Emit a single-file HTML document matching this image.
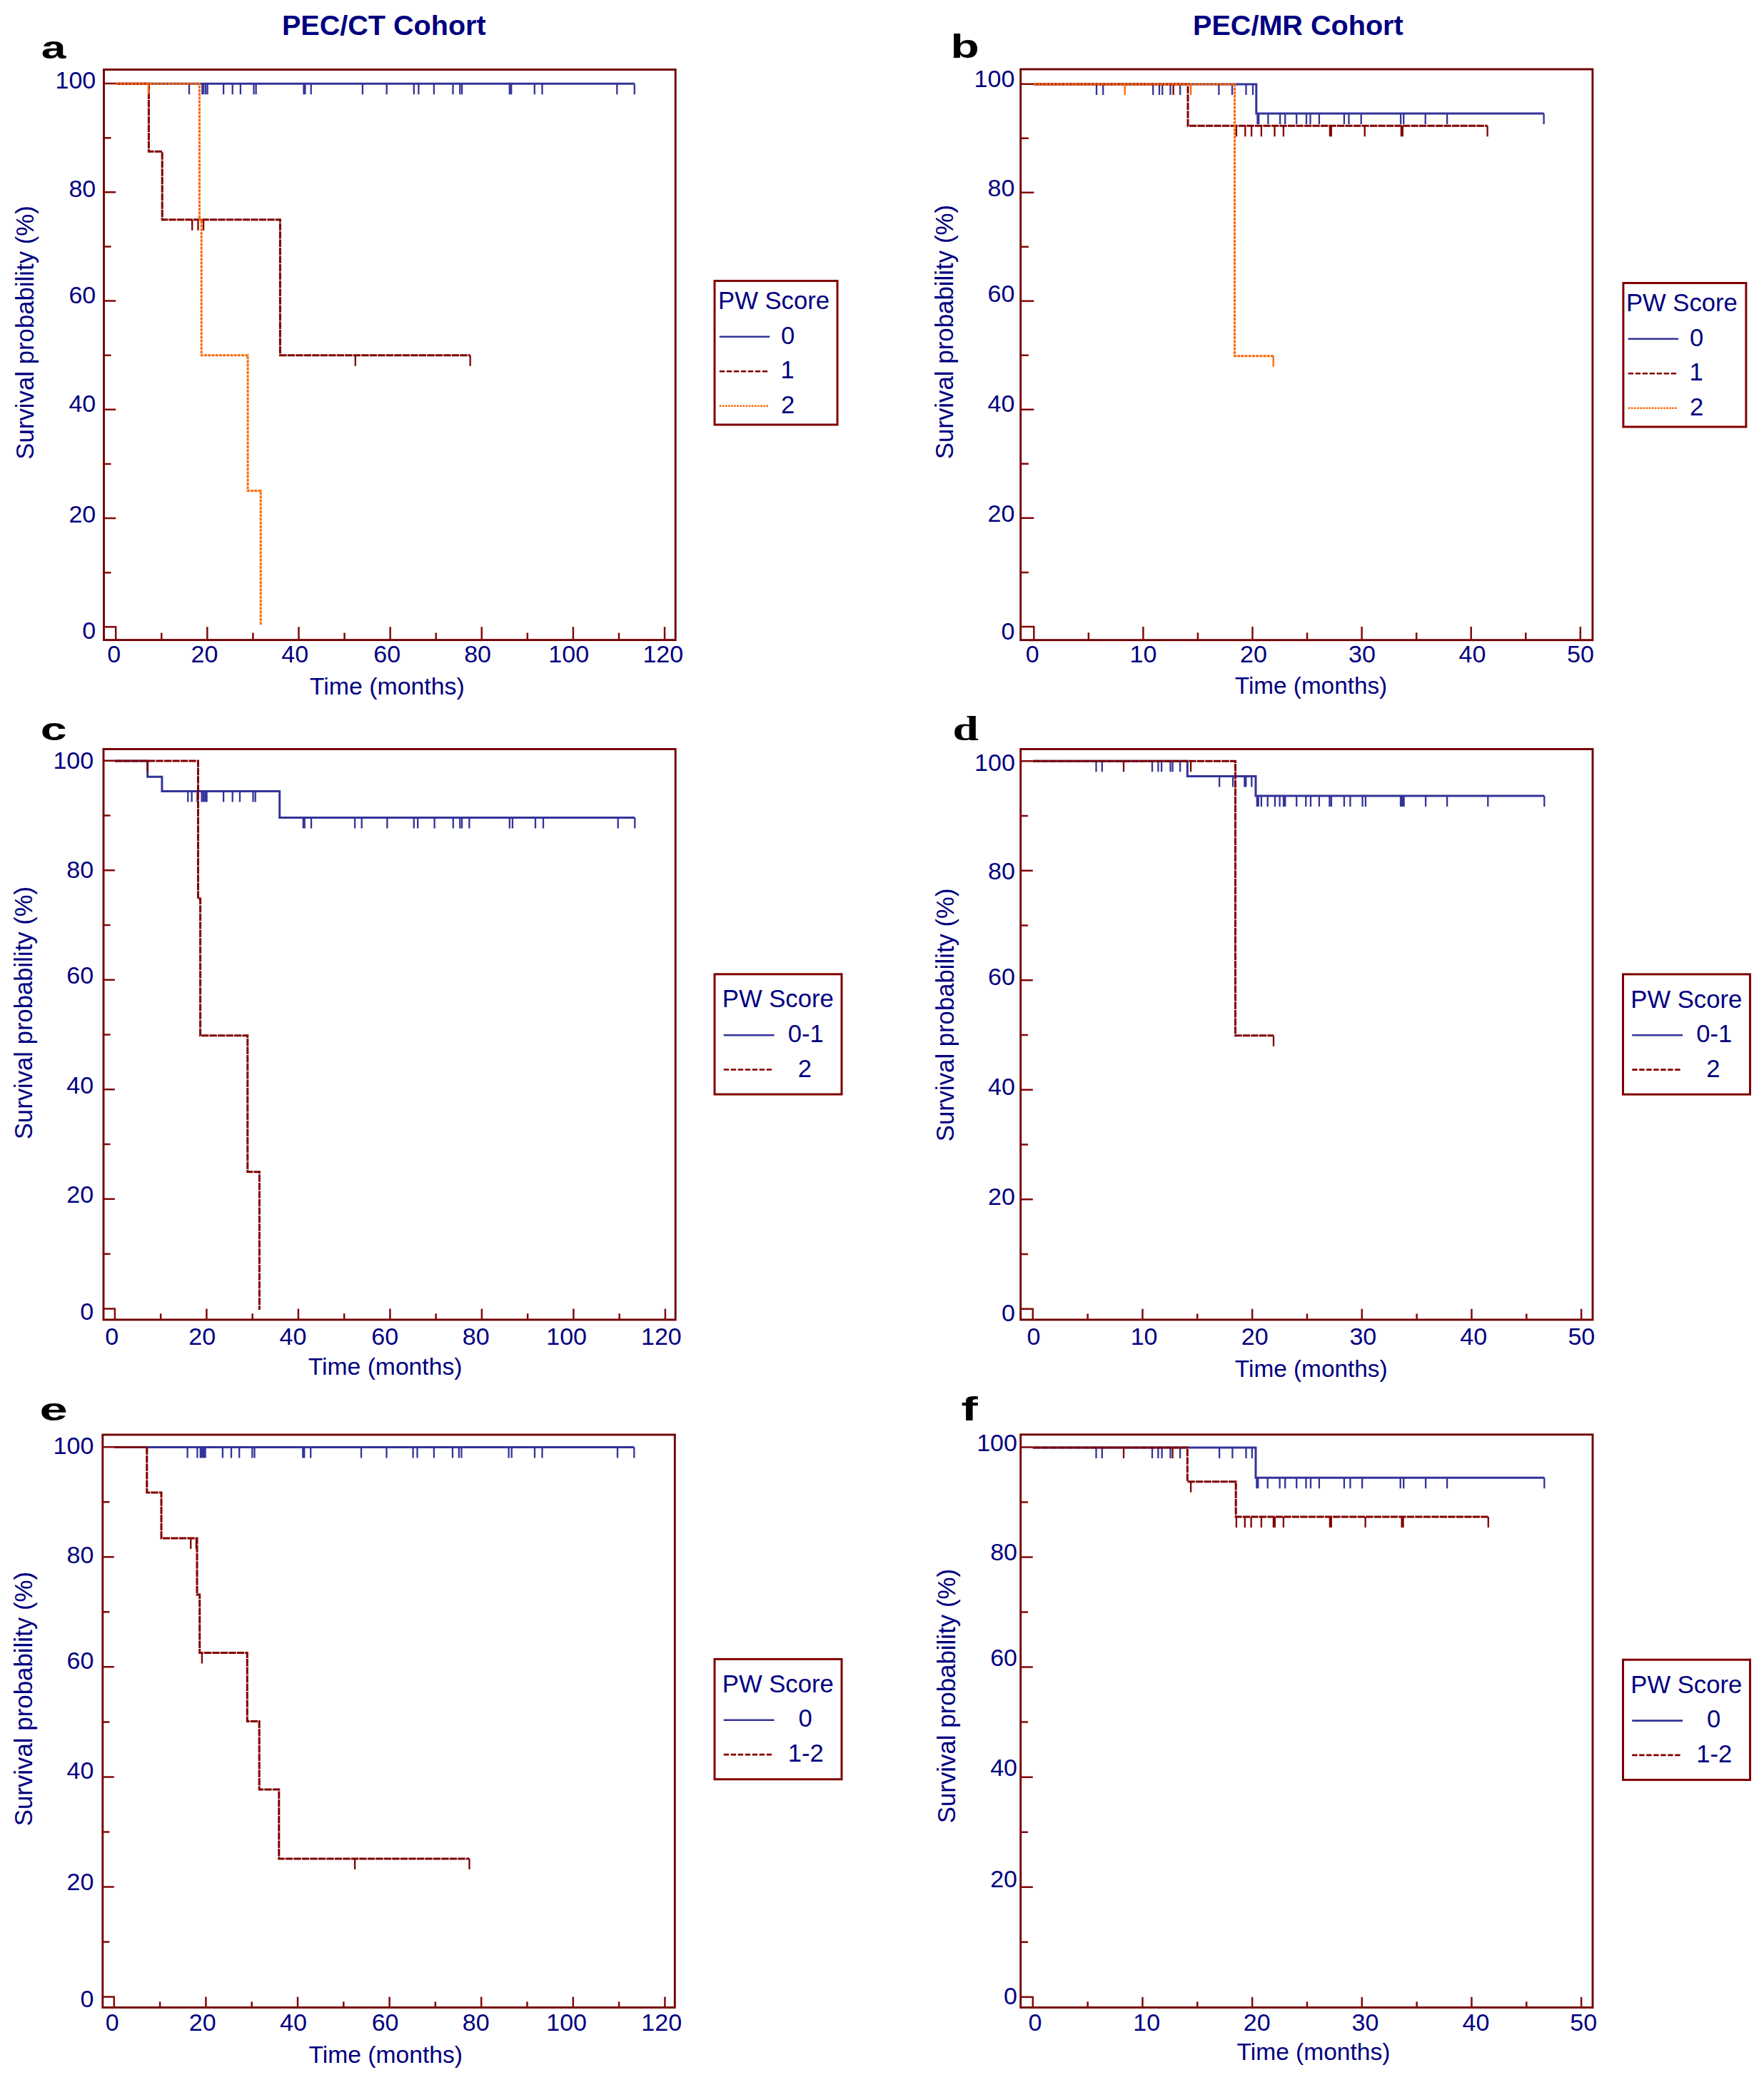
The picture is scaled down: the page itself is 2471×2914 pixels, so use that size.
<!DOCTYPE html>
<html lang="en"><head><meta charset="utf-8"><title>Kaplan-Meier survival by PW Score</title>
<style>html,body{margin:0;padding:0;background:#fff}svg{display:block}text{white-space:pre}</style></head>
<body><svg width="2471" height="2914" viewBox="0 0 2471 2914">
<rect width="2471" height="2914" fill="#fff"/>
<text transform="translate(394.93 49.3) scale(1.0000 1)" font-family='"Liberation Sans", Arial, sans-serif' font-size="39.57" font-weight="bold" fill="#000080">PEC/CT Cohort</text>
<text transform="translate(1671.03 49.4) scale(1.0000 1)" font-family='"Liberation Sans", Arial, sans-serif' font-size="39.58" font-weight="bold" fill="#000080">PEC/MR Cohort</text>
<rect x="145.5" y="97.5" width="800.7" height="799.1" fill="none" stroke="#720000" stroke-width="2.9"/>
<path d="M145.5 802.18h10.02M145.5 726.06h16.7M145.5 649.94h10.02M145.5 573.82h16.7M145.5 497.7h10.02M145.5 421.58h16.7M145.5 345.46h10.02M145.5 269.34h16.7M145.5 193.22h10.02M145.5 117.1h16.7M226.27 896.6v-10.06M290.34 896.6v-18.3M354.41 896.6v-10.06M418.48 896.6v-18.3M482.55 896.6v-10.06M546.62 896.6v-18.3M610.69 896.6v-10.06M674.76 896.6v-18.3M738.83 896.6v-10.06M802.9 896.6v-18.3M866.97 896.6v-10.06M931.04 896.6v-18.3M145.5 878.3H162.2V896.6" stroke="#840808" stroke-width="2.5" fill="none" stroke-linejoin="round"/>
<text transform="translate(150.17 928.2) scale(1.0000 1)" font-family='"Liberation Sans", Arial, sans-serif' font-size="34" font-weight="normal" fill="#000080">0</text>
<text transform="translate(267.47 928.2) scale(1.0000 1)" font-family='"Liberation Sans", Arial, sans-serif' font-size="34" font-weight="normal" fill="#000080">20</text>
<text transform="translate(394.28 928.2) scale(1.0000 1)" font-family='"Liberation Sans", Arial, sans-serif' font-size="34" font-weight="normal" fill="#000080">40</text>
<text transform="translate(523.27 928.2) scale(1.0000 1)" font-family='"Liberation Sans", Arial, sans-serif' font-size="34" font-weight="normal" fill="#000080">60</text>
<text transform="translate(650.14 928.2) scale(1.0000 1)" font-family='"Liberation Sans", Arial, sans-serif' font-size="34" font-weight="normal" fill="#000080">80</text>
<text transform="translate(768.32 928.2) scale(1.0000 1)" font-family='"Liberation Sans", Arial, sans-serif' font-size="34" font-weight="normal" fill="#000080">100</text>
<text transform="translate(900.42 928.2) scale(1.0000 1)" font-family='"Liberation Sans", Arial, sans-serif' font-size="34" font-weight="normal" fill="#000080">120</text>
<text transform="translate(77.48 123.5) scale(1.0000 1)" font-family='"Liberation Sans", Arial, sans-serif' font-size="34" font-weight="normal" fill="#000080">100</text>
<text transform="translate(96.44 276.3) scale(1.0000 1)" font-family='"Liberation Sans", Arial, sans-serif' font-size="34" font-weight="normal" fill="#000080">80</text>
<text transform="translate(96.44 424.5) scale(1.0000 1)" font-family='"Liberation Sans", Arial, sans-serif' font-size="34" font-weight="normal" fill="#000080">60</text>
<text transform="translate(96.44 576.7) scale(1.0000 1)" font-family='"Liberation Sans", Arial, sans-serif' font-size="34" font-weight="normal" fill="#000080">40</text>
<text transform="translate(96.44 731.5) scale(1.0000 1)" font-family='"Liberation Sans", Arial, sans-serif' font-size="34" font-weight="normal" fill="#000080">20</text>
<text transform="translate(115.31 895.1) scale(1.0000 1)" font-family='"Liberation Sans", Arial, sans-serif' font-size="34" font-weight="normal" fill="#000080">0</text>
<text transform="translate(47.1 643.67) rotate(-90) scale(1.0000 1)" font-family='"Liberation Sans", Arial, sans-serif' font-size="34.78" font-weight="normal" fill="#000080">Survival probability (%)</text>
<text transform="translate(433.74 972.5) scale(1.0000 1)" font-family='"Liberation Sans", Arial, sans-serif' font-size="33.88" font-weight="normal" fill="#000080">Time (months)</text>
<text transform="translate(57.63 82.07) scale(1.4343 1)" font-family='"Liberation Sans", Arial, sans-serif' font-size="43.47" font-weight="bold" fill="#000">a</text>
<polyline points="162.2,117.3 888.8,117.3" fill="none" stroke="#333399" stroke-width="3" stroke-linejoin="miter"/>
<path d="M265 117.3v15M283.3 117.3v15M285.1 117.3v15M288 117.3v15M290.6 117.3v15M313.1 117.3v15M325.7 117.3v15M336.9 117.3v15M355.5 117.3v15M358.6 117.3v15M425.5 117.3v15M427.4 117.3v15M435.7 117.3v15M507.9 117.3v15M541.7 117.3v15M579.8 117.3v15M586.4 117.3v15M607.9 117.3v15M634.5 117.3v15M644.3 117.3v15M647.1 117.3v15M713.8 117.3v15M716.2 117.3v15M748.8 117.3v15M759.5 117.3v15M864.3 117.3v15M888.8 117.3v15" stroke="#333399" stroke-width="2.3" fill="none"/>
<polyline points="162.2,117.3 208.4,117.3 208.4,212.3 227.2,212.3 227.2,307.7 392.4,307.7 392.4,497.8 658.7,497.8" fill="none" stroke="#800000" stroke-width="3" stroke-linejoin="miter" stroke-dasharray="10.4 1.1"/>
<path d="M269.2 307.7v15M277.5 307.7v15M285.1 307.7v15" stroke="#800000" stroke-width="2.3" fill="none"/>
<path d="M497.8 497.8v15M658.7 497.8v15" stroke="#800000" stroke-width="2.3" fill="none"/>
<polyline points="162.2,117.3 279.4,117.3 279.4,307.7 282.2,307.7 282.2,497.8 347.1,497.8 347.1,687.5 365.2,687.5 365.2,875.3" fill="none" stroke="#FF6600" stroke-width="3" stroke-linejoin="miter" stroke-dasharray="4 1.2"/>
<path d="M207.9 117.3v15" stroke="#FF6600" stroke-width="2.3" fill="none"/>
<rect x="1001" y="393.5" width="172" height="201.5" fill="#fff" stroke="#800000" stroke-width="3"/>
<text transform="translate(1006.04 432.7) scale(1.0000 1)" font-family='"Liberation Sans", Arial, sans-serif' font-size="34.65" font-weight="normal" fill="#000080">PW Score</text>
<line x1="1007.8" y1="471.8" x2="1078.2" y2="471.8" stroke="#333399" stroke-width="2.6"/>
<text transform="translate(1094.06 481.8) scale(1.0000 1)" font-family='"Liberation Sans", Arial, sans-serif' font-size="34.6" font-weight="normal" fill="#000080">0</text>
<line x1="1007.8" y1="520.3" x2="1076.4" y2="520.3" stroke="#800000" stroke-width="2.6" stroke-dasharray="7.4 2.6"/>
<text transform="translate(1093.62 530.3) scale(1.0000 1)" font-family='"Liberation Sans", Arial, sans-serif' font-size="34.6" font-weight="normal" fill="#000080">1</text>
<line x1="1007.8" y1="568.8" x2="1076.4" y2="568.8" stroke="#FF6600" stroke-width="2.6" stroke-dasharray="2.6 1.5"/>
<text transform="translate(1094.1 578.8) scale(1.0000 1)" font-family='"Liberation Sans", Arial, sans-serif' font-size="34.6" font-weight="normal" fill="#000080">2</text>
<rect x="1429.7" y="97" width="801.2" height="799.7" fill="none" stroke="#720000" stroke-width="2.9"/>
<path d="M1429.7 801.88h11.16M1429.7 725.86h18.6M1429.7 649.84h11.16M1429.7 573.82h18.6M1429.7 497.8h11.16M1429.7 421.78h18.6M1429.7 345.76h11.16M1429.7 269.74h18.6M1429.7 193.72h11.16M1429.7 117.7h18.6M1524.85 896.7v-10.34M1601.4 896.7v-18.8M1677.95 896.7v-10.34M1754.5 896.7v-18.8M1831.05 896.7v-10.34M1907.6 896.7v-18.8M1984.15 896.7v-10.34M2060.7 896.7v-18.8M2137.25 896.7v-10.34M2213.8 896.7v-18.8M1429.7 877.9H1448.3V896.7" stroke="#840808" stroke-width="2.5" fill="none" stroke-linejoin="round"/>
<text transform="translate(1436.77 928) scale(1.0000 1)" font-family='"Liberation Sans", Arial, sans-serif' font-size="34" font-weight="normal" fill="#000080">0</text>
<text transform="translate(1582.54 928) scale(1.0000 1)" font-family='"Liberation Sans", Arial, sans-serif' font-size="34" font-weight="normal" fill="#000080">10</text>
<text transform="translate(1737.07 928) scale(1.0000 1)" font-family='"Liberation Sans", Arial, sans-serif' font-size="34" font-weight="normal" fill="#000080">20</text>
<text transform="translate(1889.03 928) scale(1.0000 1)" font-family='"Liberation Sans", Arial, sans-serif' font-size="34" font-weight="normal" fill="#000080">30</text>
<text transform="translate(2043.58 928) scale(1.0000 1)" font-family='"Liberation Sans", Arial, sans-serif' font-size="34" font-weight="normal" fill="#000080">40</text>
<text transform="translate(2195.09 928) scale(1.0000 1)" font-family='"Liberation Sans", Arial, sans-serif' font-size="34" font-weight="normal" fill="#000080">50</text>
<text transform="translate(1364.58 122.1) scale(1.0000 1)" font-family='"Liberation Sans", Arial, sans-serif' font-size="34" font-weight="normal" fill="#000080">100</text>
<text transform="translate(1383.54 275.3) scale(1.0000 1)" font-family='"Liberation Sans", Arial, sans-serif' font-size="34" font-weight="normal" fill="#000080">80</text>
<text transform="translate(1383.53 423.1) scale(1.0000 1)" font-family='"Liberation Sans", Arial, sans-serif' font-size="34" font-weight="normal" fill="#000080">60</text>
<text transform="translate(1383.53 576.7) scale(1.0000 1)" font-family='"Liberation Sans", Arial, sans-serif' font-size="34" font-weight="normal" fill="#000080">40</text>
<text transform="translate(1383.53 730.9) scale(1.0000 1)" font-family='"Liberation Sans", Arial, sans-serif' font-size="34" font-weight="normal" fill="#000080">20</text>
<text transform="translate(1402.41 896.1) scale(1.0000 1)" font-family='"Liberation Sans", Arial, sans-serif' font-size="34" font-weight="normal" fill="#000080">0</text>
<text transform="translate(1334.9 643.37) rotate(-90) scale(1.0000 1)" font-family='"Liberation Sans", Arial, sans-serif' font-size="34.86" font-weight="normal" fill="#000080">Survival probability (%)</text>
<text transform="translate(1729.85 971.8) scale(1.0000 1)" font-family='"Liberation Sans", Arial, sans-serif' font-size="33.29" font-weight="normal" fill="#000080">Time (months)</text>
<text transform="translate(1331.43 80.54) scale(1.4212 1)" font-family='"Liberation Sans", Arial, sans-serif' font-size="46.26" font-weight="bold" fill="#000">b</text>
<polyline points="1448.3,117.9 1759.8,117.9 1759.8,159 2162.6,159" fill="none" stroke="#333399" stroke-width="3" stroke-linejoin="miter"/>
<path d="M1536 117.9v15M1545.2 117.9v15M1615.2 117.9v15M1624 117.9v15M1628.3 117.9v15M1639.5 117.9v15M1653.1 117.9v15M1707.4 117.9v15M1726 117.9v15M1745.5 117.9v15M1755 117.9v15" stroke="#333399" stroke-width="2.3" fill="none"/>
<path d="M1761.5 159v15M1763.2 159v15M1776.4 159v15M1793.1 159v15M1800.2 159v15M1816.2 159v15M1830 159v15M1835.5 159v15M1847.9 159v15M1882.9 159v15M1889.5 159v15M1906.7 159v15M1962.1 159v15M1966.2 159v15M1996.7 159v15M2027.1 159v15M2162.6 159v15" stroke="#333399" stroke-width="2.3" fill="none"/>
<polyline points="1448.3,117.9 1664,117.9 1664,176.3 2083.6,176.3" fill="none" stroke="#800000" stroke-width="3" stroke-linejoin="miter" stroke-dasharray="10.4 1.1"/>
<path d="M1643.6 117.9v15" stroke="#800000" stroke-width="2.3" fill="none"/>
<path d="M1731.9 176.3v15M1744.3 176.3v15M1753.1 176.3v15M1766.9 176.3v15M1785.5 176.3v15M1797.9 176.3v15M1862.9 176.3v15M1864.8 176.3v15M1911.7 176.3v15M1962.9 176.3v15M1964.8 176.3v15M2083.6 176.3v15" stroke="#800000" stroke-width="2.3" fill="none"/>
<polyline points="1448.3,117.9 1729.5,117.9 1729.5,498.7 1783.7,498.7" fill="none" stroke="#FF6600" stroke-width="3" stroke-linejoin="miter" stroke-dasharray="4 1.2"/>
<path d="M1575.7 117.9v15M1668.1 117.9v15" stroke="#FF6600" stroke-width="2.3" fill="none"/>
<path d="M1783.7 498.7v15" stroke="#FF6600" stroke-width="2.3" fill="none"/>
<rect x="2273.9" y="396.5" width="172" height="201.5" fill="#fff" stroke="#800000" stroke-width="3"/>
<text transform="translate(2277.94 435.7) scale(1.0000 1)" font-family='"Liberation Sans", Arial, sans-serif' font-size="34.65" font-weight="normal" fill="#000080">PW Score</text>
<line x1="2280.7" y1="474.8" x2="2351.1" y2="474.8" stroke="#333399" stroke-width="2.6"/>
<text transform="translate(2366.96 484.8) scale(1.0000 1)" font-family='"Liberation Sans", Arial, sans-serif' font-size="34.6" font-weight="normal" fill="#000080">0</text>
<line x1="2280.7" y1="523.3" x2="2349.3" y2="523.3" stroke="#800000" stroke-width="2.6" stroke-dasharray="7.4 2.6"/>
<text transform="translate(2366.52 533.3) scale(1.0000 1)" font-family='"Liberation Sans", Arial, sans-serif' font-size="34.6" font-weight="normal" fill="#000080">1</text>
<line x1="2280.7" y1="571.8" x2="2349.3" y2="571.8" stroke="#FF6600" stroke-width="2.6" stroke-dasharray="2.6 1.5"/>
<text transform="translate(2367 581.8) scale(1.0000 1)" font-family='"Liberation Sans", Arial, sans-serif' font-size="34.6" font-weight="normal" fill="#000080">2</text>
<rect x="145" y="1049.5" width="801.2" height="799.4" fill="none" stroke="#720000" stroke-width="2.9"/>
<path d="M145 1756.63h9.54M145 1679.86h15.9M145 1603.09h9.54M145 1526.32h15.9M145 1449.55h9.54M145 1372.78h15.9M145 1296.01h9.54M145 1219.24h15.9M145 1142.47h9.54M145 1065.7h15.9M225.15 1848.9v-8.53M289.4 1848.9v-15.5M353.65 1848.9v-8.53M417.9 1848.9v-15.5M482.15 1848.9v-8.53M546.4 1848.9v-15.5M610.65 1848.9v-8.53M674.9 1848.9v-15.5M739.15 1848.9v-8.53M803.4 1848.9v-15.5M867.65 1848.9v-8.53M931.9 1848.9v-15.5M145 1833.4H160.9V1848.9" stroke="#840808" stroke-width="2.5" fill="none" stroke-linejoin="round"/>
<text transform="translate(147.37 1884) scale(1.0000 1)" font-family='"Liberation Sans", Arial, sans-serif' font-size="34" font-weight="normal" fill="#000080">0</text>
<text transform="translate(264.32 1884) scale(1.0000 1)" font-family='"Liberation Sans", Arial, sans-serif' font-size="34" font-weight="normal" fill="#000080">20</text>
<text transform="translate(391.58 1884) scale(1.0000 1)" font-family='"Liberation Sans", Arial, sans-serif' font-size="34" font-weight="normal" fill="#000080">40</text>
<text transform="translate(520.32 1884) scale(1.0000 1)" font-family='"Liberation Sans", Arial, sans-serif' font-size="34" font-weight="normal" fill="#000080">60</text>
<text transform="translate(647.75 1884) scale(1.0000 1)" font-family='"Liberation Sans", Arial, sans-serif' font-size="34" font-weight="normal" fill="#000080">80</text>
<text transform="translate(765.27 1884) scale(1.0000 1)" font-family='"Liberation Sans", Arial, sans-serif' font-size="34" font-weight="normal" fill="#000080">100</text>
<text transform="translate(897.97 1884) scale(1.0000 1)" font-family='"Liberation Sans", Arial, sans-serif' font-size="34" font-weight="normal" fill="#000080">120</text>
<text transform="translate(74.38 1076.9) scale(1.0000 1)" font-family='"Liberation Sans", Arial, sans-serif' font-size="34" font-weight="normal" fill="#000080">100</text>
<text transform="translate(93.34 1230.2) scale(1.0000 1)" font-family='"Liberation Sans", Arial, sans-serif' font-size="34" font-weight="normal" fill="#000080">80</text>
<text transform="translate(93.34 1377.5) scale(1.0000 1)" font-family='"Liberation Sans", Arial, sans-serif' font-size="34" font-weight="normal" fill="#000080">60</text>
<text transform="translate(93.34 1531.7) scale(1.0000 1)" font-family='"Liberation Sans", Arial, sans-serif' font-size="34" font-weight="normal" fill="#000080">40</text>
<text transform="translate(93.34 1685.4) scale(1.0000 1)" font-family='"Liberation Sans", Arial, sans-serif' font-size="34" font-weight="normal" fill="#000080">20</text>
<text transform="translate(112.21 1849) scale(1.0000 1)" font-family='"Liberation Sans", Arial, sans-serif' font-size="34" font-weight="normal" fill="#000080">0</text>
<text transform="translate(44.9 1596.26) rotate(-90) scale(1.0000 1)" font-family='"Liberation Sans", Arial, sans-serif' font-size="34.66" font-weight="normal" fill="#000080">Survival probability (%)</text>
<text transform="translate(431.74 1925.6) scale(1.0000 1)" font-family='"Liberation Sans", Arial, sans-serif' font-size="33.67" font-weight="normal" fill="#000080">Time (months)</text>
<text transform="translate(56.85 1036.86) scale(1.4928 1)" font-family='"Liberation Sans", Arial, sans-serif' font-size="44.38" font-weight="bold" fill="#000">c</text>
<polyline points="160.9,1065.9 206.7,1065.9 206.7,1088.3 226.9,1088.3 226.9,1108.5 391.7,1108.5 391.7,1145.5 889.3,1145.5" fill="none" stroke="#333399" stroke-width="3" stroke-linejoin="miter"/>
<path d="M263.3 1108.5v15M268.6 1108.5v15M276.4 1108.5v15M282.5 1108.5v15M284.9 1108.5v15M287.3 1108.5v15M289.6 1108.5v15M313.1 1108.5v15M325.7 1108.5v15M336 1108.5v15M354.5 1108.5v15M357.7 1108.5v15" stroke="#333399" stroke-width="2.3" fill="none"/>
<path d="M424.8 1145.5v15M426.7 1145.5v15M436 1145.5v15M497.1 1145.5v15M506.7 1145.5v15M542.4 1145.5v15M579.8 1145.5v15M585.2 1145.5v15M608.6 1145.5v15M634.8 1145.5v15M644.3 1145.5v15M647.1 1145.5v15M657.4 1145.5v15M713.8 1145.5v15M717.9 1145.5v15M750 1145.5v15M761 1145.5v15M865.7 1145.5v15M889.3 1145.5v15" stroke="#333399" stroke-width="2.3" fill="none"/>
<polyline points="160.9,1065.9 277.5,1065.9 277.5,1259 280.6,1259 280.6,1450.8 346.8,1450.8 346.8,1641.8 363.4,1641.8 363.4,1835" fill="none" stroke="#800000" stroke-width="3" stroke-linejoin="miter" stroke-dasharray="10.4 1.1"/>
<path d="M206.6 1065.9v15" stroke="#800000" stroke-width="2.3" fill="none"/>
<rect x="1001" y="1364.8" width="178" height="168.3" fill="#fff" stroke="#800000" stroke-width="3"/>
<text transform="translate(1011.84 1411.4) scale(1.0000 1)" font-family='"Liberation Sans", Arial, sans-serif' font-size="34.65" font-weight="normal" fill="#000080">PW Score</text>
<line x1="1013.7" y1="1450.2" x2="1084.6" y2="1450.2" stroke="#333399" stroke-width="2.6"/>
<text x="1103.7" y="1459.8" font-family='"Liberation Sans", Arial, sans-serif' font-size="34.6" font-weight="normal" fill="#000080">0-1</text>
<line x1="1013.7" y1="1498.5" x2="1082.5" y2="1498.5" stroke="#800000" stroke-width="2.6" stroke-dasharray="7.4 2.6"/>
<text x="1117.8" y="1508.6" font-family='"Liberation Sans", Arial, sans-serif' font-size="34.6" font-weight="normal" fill="#000080">2</text>
<rect x="1429.7" y="1049.5" width="801.3" height="799.4" fill="none" stroke="#720000" stroke-width="2.9"/>
<path d="M1429.7 1756.95h10.26M1429.7 1680.2h17.1M1429.7 1603.45h10.26M1429.7 1526.7h17.1M1429.7 1449.95h10.26M1429.7 1373.2h17.1M1429.7 1296.45h10.26M1429.7 1219.7h17.1M1429.7 1142.95h10.26M1429.7 1066.2h17.1M1523.63 1848.9v-8.36M1600.46 1848.9v-15.2M1677.29 1848.9v-8.36M1754.12 1848.9v-15.2M1830.95 1848.9v-8.36M1907.78 1848.9v-15.2M1984.61 1848.9v-8.36M2061.44 1848.9v-15.2M2138.27 1848.9v-8.36M2215.1 1848.9v-15.2M1429.7 1833.7H1446.8V1848.9" stroke="#840808" stroke-width="2.5" fill="none" stroke-linejoin="round"/>
<text transform="translate(1438.57 1884) scale(1.0000 1)" font-family='"Liberation Sans", Arial, sans-serif' font-size="34" font-weight="normal" fill="#000080">0</text>
<text transform="translate(1583.64 1884) scale(1.0000 1)" font-family='"Liberation Sans", Arial, sans-serif' font-size="34" font-weight="normal" fill="#000080">10</text>
<text transform="translate(1738.72 1884) scale(1.0000 1)" font-family='"Liberation Sans", Arial, sans-serif' font-size="34" font-weight="normal" fill="#000080">20</text>
<text transform="translate(1890.38 1884) scale(1.0000 1)" font-family='"Liberation Sans", Arial, sans-serif' font-size="34" font-weight="normal" fill="#000080">30</text>
<text transform="translate(2045.24 1884) scale(1.0000 1)" font-family='"Liberation Sans", Arial, sans-serif' font-size="34" font-weight="normal" fill="#000080">40</text>
<text transform="translate(2196.44 1884) scale(1.0000 1)" font-family='"Liberation Sans", Arial, sans-serif' font-size="34" font-weight="normal" fill="#000080">50</text>
<text transform="translate(1365.08 1079.8) scale(1.0000 1)" font-family='"Liberation Sans", Arial, sans-serif' font-size="34" font-weight="normal" fill="#000080">100</text>
<text transform="translate(1384.04 1232.2) scale(1.0000 1)" font-family='"Liberation Sans", Arial, sans-serif' font-size="34" font-weight="normal" fill="#000080">80</text>
<text transform="translate(1384.03 1380) scale(1.0000 1)" font-family='"Liberation Sans", Arial, sans-serif' font-size="34" font-weight="normal" fill="#000080">60</text>
<text transform="translate(1384.03 1533.6) scale(1.0000 1)" font-family='"Liberation Sans", Arial, sans-serif' font-size="34" font-weight="normal" fill="#000080">40</text>
<text transform="translate(1384.03 1688) scale(1.0000 1)" font-family='"Liberation Sans", Arial, sans-serif' font-size="34" font-weight="normal" fill="#000080">20</text>
<text transform="translate(1402.91 1850.8) scale(1.0000 1)" font-family='"Liberation Sans", Arial, sans-serif' font-size="34" font-weight="normal" fill="#000080">0</text>
<text transform="translate(1335.7 1599.26) rotate(-90) scale(1.0000 1)" font-family='"Liberation Sans", Arial, sans-serif' font-size="34.7" font-weight="normal" fill="#000080">Survival probability (%)</text>
<text transform="translate(1729.85 1928.9) scale(1.0000 1)" font-family='"Liberation Sans", Arial, sans-serif' font-size="33.37" font-weight="normal" fill="#000080">Time (months)</text>
<text transform="translate(1334.49 1036.82) scale(1.3550 1)" font-family='"Liberation Serif", "Times New Roman", serif' font-size="48.23" font-weight="bold" fill="#000">d</text>
<polyline points="1446.8,1066.3 1663.3,1066.3 1663.3,1087.6 1759,1087.6 1759,1115 2163.3,1115" fill="none" stroke="#333399" stroke-width="3" stroke-linejoin="miter"/>
<path d="M1535.5 1066.3v15M1543.8 1066.3v15M1614 1066.3v15M1622.4 1066.3v15M1627.1 1066.3v15M1639.5 1066.3v15M1642.6 1066.3v15M1653.1 1066.3v15" stroke="#333399" stroke-width="2.3" fill="none"/>
<path d="M1708.1 1087.6v15M1727.1 1087.6v15M1743.4 1087.6v15M1745.3 1087.6v15M1753.3 1087.6v15" stroke="#333399" stroke-width="2.3" fill="none"/>
<path d="M1760.8 1115v15M1762.7 1115v15M1766.9 1115v15M1775.7 1115v15M1786 1115v15M1792.6 1115v15M1798 1115v15M1800.3 1115v15M1816.2 1115v15M1829.3 1115v15M1836 1115v15M1847.9 1115v15M1862.4 1115v15M1864.9 1115v15M1882.9 1115v15M1891.4 1115v15M1908.6 1115v15M1912.9 1115v15M1962 1115v15M1964.3 1115v15M1966.6 1115v15M1997.1 1115v15M2027.1 1115v15M2084.3 1115v15M2163.3 1115v15" stroke="#333399" stroke-width="2.3" fill="none"/>
<polyline points="1446.8,1066.3 1730.5,1066.3 1730.5,1450.8 1784,1450.8" fill="none" stroke="#800000" stroke-width="3" stroke-linejoin="miter" stroke-dasharray="10.4 1.1"/>
<path d="M1574 1066.3v15M1668.1 1066.3v15" stroke="#800000" stroke-width="2.3" fill="none"/>
<path d="M1784 1450.8v15" stroke="#800000" stroke-width="2.3" fill="none"/>
<rect x="2273.5" y="1364.9" width="178" height="168.3" fill="#fff" stroke="#800000" stroke-width="3"/>
<text transform="translate(2284.34 1411.5) scale(1.0000 1)" font-family='"Liberation Sans", Arial, sans-serif' font-size="34.65" font-weight="normal" fill="#000080">PW Score</text>
<line x1="2286.2" y1="1450.3" x2="2357.1" y2="1450.3" stroke="#333399" stroke-width="2.6"/>
<text x="2376.2" y="1459.9" font-family='"Liberation Sans", Arial, sans-serif' font-size="34.6" font-weight="normal" fill="#000080">0-1</text>
<line x1="2286.2" y1="1498.6" x2="2355" y2="1498.6" stroke="#800000" stroke-width="2.6" stroke-dasharray="7.4 2.6"/>
<text x="2390.3" y="1508.7" font-family='"Liberation Sans", Arial, sans-serif' font-size="34.6" font-weight="normal" fill="#000080">2</text>
<rect x="143.8" y="2010" width="801.5" height="802.4" fill="none" stroke="#720000" stroke-width="2.9"/>
<path d="M143.8 2720.56h9.6M143.8 2643.52h16M143.8 2566.48h9.6M143.8 2489.44h16M143.8 2412.4h9.6M143.8 2335.36h16M143.8 2258.32h9.6M143.8 2181.28h16M143.8 2104.24h9.6M143.8 2027.2h16M224.1 2812.4v-8.14M288.4 2812.4v-14.8M352.7 2812.4v-8.14M417 2812.4v-14.8M481.3 2812.4v-8.14M545.6 2812.4v-14.8M609.9 2812.4v-8.14M674.2 2812.4v-14.8M738.5 2812.4v-8.14M802.8 2812.4v-14.8M867.1 2812.4v-8.14M931.4 2812.4v-14.8M143.8 2797.6H159.8V2812.4" stroke="#840808" stroke-width="2.5" fill="none" stroke-linejoin="round"/>
<text transform="translate(147.67 2844.6) scale(1.0000 1)" font-family='"Liberation Sans", Arial, sans-serif' font-size="34" font-weight="normal" fill="#000080">0</text>
<text transform="translate(264.87 2844.6) scale(1.0000 1)" font-family='"Liberation Sans", Arial, sans-serif' font-size="34" font-weight="normal" fill="#000080">20</text>
<text transform="translate(391.99 2844.6) scale(1.0000 1)" font-family='"Liberation Sans", Arial, sans-serif' font-size="34" font-weight="normal" fill="#000080">40</text>
<text transform="translate(520.67 2844.6) scale(1.0000 1)" font-family='"Liberation Sans", Arial, sans-serif' font-size="34" font-weight="normal" fill="#000080">60</text>
<text transform="translate(647.75 2844.6) scale(1.0000 1)" font-family='"Liberation Sans", Arial, sans-serif' font-size="34" font-weight="normal" fill="#000080">80</text>
<text transform="translate(765.27 2844.6) scale(1.0000 1)" font-family='"Liberation Sans", Arial, sans-serif' font-size="34" font-weight="normal" fill="#000080">100</text>
<text transform="translate(898.37 2844.6) scale(1.0000 1)" font-family='"Liberation Sans", Arial, sans-serif' font-size="34" font-weight="normal" fill="#000080">120</text>
<text transform="translate(74.58 2036.9) scale(1.0000 1)" font-family='"Liberation Sans", Arial, sans-serif' font-size="34" font-weight="normal" fill="#000080">100</text>
<text transform="translate(93.53 2190.2) scale(1.0000 1)" font-family='"Liberation Sans", Arial, sans-serif' font-size="34" font-weight="normal" fill="#000080">80</text>
<text transform="translate(93.53 2338.1) scale(1.0000 1)" font-family='"Liberation Sans", Arial, sans-serif' font-size="34" font-weight="normal" fill="#000080">60</text>
<text transform="translate(93.53 2492.1) scale(1.0000 1)" font-family='"Liberation Sans", Arial, sans-serif' font-size="34" font-weight="normal" fill="#000080">40</text>
<text transform="translate(93.53 2647.8) scale(1.0000 1)" font-family='"Liberation Sans", Arial, sans-serif' font-size="34" font-weight="normal" fill="#000080">20</text>
<text transform="translate(112.41 2812.4) scale(1.0000 1)" font-family='"Liberation Sans", Arial, sans-serif' font-size="34" font-weight="normal" fill="#000080">0</text>
<text transform="translate(45.3 2558.37) rotate(-90) scale(1.0000 1)" font-family='"Liberation Sans", Arial, sans-serif' font-size="34.87" font-weight="normal" fill="#000080">Survival probability (%)</text>
<text transform="translate(432.54 2889.7) scale(1.0000 1)" font-family='"Liberation Sans", Arial, sans-serif' font-size="33.64" font-weight="normal" fill="#000080">Time (months)</text>
<text transform="translate(55.38 1990.25) scale(1.5557 1)" font-family='"Liberation Sans", Arial, sans-serif' font-size="45.3" font-weight="bold" fill="#000">e</text>
<polyline points="159.8,2027.5 888.3,2027.5" fill="none" stroke="#333399" stroke-width="3" stroke-linejoin="miter"/>
<path d="M262.6 2027.5v15M276.4 2027.5v15M280.8 2027.5v15M283.1 2027.5v15M285.4 2027.5v15M287.6 2027.5v15M311.9 2027.5v15M324 2027.5v15M335.2 2027.5v15M353.3 2027.5v15M356.5 2027.5v15M424.3 2027.5v15M426.2 2027.5v15M435.2 2027.5v15M506 2027.5v15M541.5 2027.5v15M578.6 2027.5v15M584.5 2027.5v15M607.9 2027.5v15M634 2027.5v15M642.9 2027.5v15M646.4 2027.5v15M712.6 2027.5v15M716.7 2027.5v15M749 2027.5v15M759.5 2027.5v15M865 2027.5v15M888.3 2027.5v15" stroke="#333399" stroke-width="2.3" fill="none"/>
<polyline points="159.8,2027.5 205.8,2027.5 205.8,2091 226,2091 226,2155 276,2155 276,2234.1 279.7,2234.1 279.7,2315.5 346.3,2315.5 346.3,2411.5 363.2,2411.5 363.2,2507 390.8,2507 390.8,2604 657.5,2604" fill="none" stroke="#800000" stroke-width="3" stroke-linejoin="miter" stroke-dasharray="10.4 1.1"/>
<path d="M267.2 2155v15M274.9 2155v15" stroke="#800000" stroke-width="2.3" fill="none"/>
<path d="M282.9 2315.5v15" stroke="#800000" stroke-width="2.3" fill="none"/>
<path d="M497.1 2604v15M657.5 2604v15" stroke="#800000" stroke-width="2.3" fill="none"/>
<rect x="1001" y="2324.4" width="178" height="168.3" fill="#fff" stroke="#800000" stroke-width="3"/>
<text transform="translate(1011.84 2371) scale(1.0000 1)" font-family='"Liberation Sans", Arial, sans-serif' font-size="34.65" font-weight="normal" fill="#000080">PW Score</text>
<line x1="1013.7" y1="2409.8" x2="1084.6" y2="2409.8" stroke="#333399" stroke-width="2.6"/>
<text x="1118.6" y="2419.4" font-family='"Liberation Sans", Arial, sans-serif' font-size="34.6" font-weight="normal" fill="#000080">0</text>
<line x1="1013.7" y1="2458.1" x2="1082.5" y2="2458.1" stroke="#800000" stroke-width="2.6" stroke-dasharray="7.4 2.6"/>
<text x="1103.8" y="2468.2" font-family='"Liberation Sans", Arial, sans-serif' font-size="34.6" font-weight="normal" fill="#000080">1-2</text>
<rect x="1429.7" y="2009.8" width="801.3" height="802.6" fill="none" stroke="#720000" stroke-width="2.9"/>
<path d="M1429.7 2720.76h10.26M1429.7 2643.72h17.1M1429.7 2566.68h10.26M1429.7 2489.64h17.1M1429.7 2412.6h10.26M1429.7 2335.56h17.1M1429.7 2258.52h10.26M1429.7 2181.48h17.1M1429.7 2104.44h10.26M1429.7 2027.4h17.1M1523.63 2812.4v-8.03M1600.46 2812.4v-14.6M1677.29 2812.4v-8.03M1754.12 2812.4v-14.6M1830.95 2812.4v-8.03M1907.78 2812.4v-14.6M1984.61 2812.4v-8.03M2061.44 2812.4v-14.6M2138.27 2812.4v-8.03M2215.1 2812.4v-14.6M1429.7 2797.8H1446.8V2812.4" stroke="#840808" stroke-width="2.5" fill="none" stroke-linejoin="round"/>
<text transform="translate(1440.62 2844.8) scale(1.0000 1)" font-family='"Liberation Sans", Arial, sans-serif' font-size="34" font-weight="normal" fill="#000080">0</text>
<text transform="translate(1587.29 2844.8) scale(1.0000 1)" font-family='"Liberation Sans", Arial, sans-serif' font-size="34" font-weight="normal" fill="#000080">10</text>
<text transform="translate(1741.72 2844.8) scale(1.0000 1)" font-family='"Liberation Sans", Arial, sans-serif' font-size="34" font-weight="normal" fill="#000080">20</text>
<text transform="translate(1893.53 2844.8) scale(1.0000 1)" font-family='"Liberation Sans", Arial, sans-serif' font-size="34" font-weight="normal" fill="#000080">30</text>
<text transform="translate(2048.59 2844.8) scale(1.0000 1)" font-family='"Liberation Sans", Arial, sans-serif' font-size="34" font-weight="normal" fill="#000080">40</text>
<text transform="translate(2199.29 2844.8) scale(1.0000 1)" font-family='"Liberation Sans", Arial, sans-serif' font-size="34" font-weight="normal" fill="#000080">50</text>
<text transform="translate(1368.18 2032.5) scale(1.0000 1)" font-family='"Liberation Sans", Arial, sans-serif' font-size="34" font-weight="normal" fill="#000080">100</text>
<text transform="translate(1387.13 2185.7) scale(1.0000 1)" font-family='"Liberation Sans", Arial, sans-serif' font-size="34" font-weight="normal" fill="#000080">80</text>
<text transform="translate(1387.13 2334.1) scale(1.0000 1)" font-family='"Liberation Sans", Arial, sans-serif' font-size="34" font-weight="normal" fill="#000080">60</text>
<text transform="translate(1387.13 2488.2) scale(1.0000 1)" font-family='"Liberation Sans", Arial, sans-serif' font-size="34" font-weight="normal" fill="#000080">40</text>
<text transform="translate(1387.13 2643.9) scale(1.0000 1)" font-family='"Liberation Sans", Arial, sans-serif' font-size="34" font-weight="normal" fill="#000080">20</text>
<text transform="translate(1406.01 2808.1) scale(1.0000 1)" font-family='"Liberation Sans", Arial, sans-serif' font-size="34" font-weight="normal" fill="#000080">0</text>
<text transform="translate(1338.3 2554.37) rotate(-90) scale(1.0000 1)" font-family='"Liberation Sans", Arial, sans-serif' font-size="34.86" font-weight="normal" fill="#000080">Survival probability (%)</text>
<text transform="translate(1732.55 2886.1) scale(1.0000 1)" font-family='"Liberation Sans", Arial, sans-serif' font-size="33.52" font-weight="normal" fill="#000080">Time (months)</text>
<text transform="translate(1346.38 1990.2) scale(1.4843 1)" font-family='"Liberation Sans", Arial, sans-serif' font-size="46.9" font-weight="bold" fill="#000">f</text>
<polyline points="1446.8,2027.9 1759,2027.9 1759,2070.2 2163.3,2070.2" fill="none" stroke="#333399" stroke-width="3" stroke-linejoin="miter"/>
<path d="M1535.5 2027.9v15M1543.8 2027.9v15M1614 2027.9v15M1622.4 2027.9v15M1627.6 2027.9v15M1639.5 2027.9v15M1653.1 2027.9v15M1708.1 2027.9v15M1726.4 2027.9v15M1745.5 2027.9v15M1753.8 2027.9v15" stroke="#333399" stroke-width="2.3" fill="none"/>
<path d="M1760.4 2070.2v15M1762.3 2070.2v15M1775.7 2070.2v15M1792.6 2070.2v15M1800.2 2070.2v15M1816.2 2070.2v15M1829.5 2070.2v15M1836 2070.2v15M1847.9 2070.2v15M1882.9 2070.2v15M1891.4 2070.2v15M1908.1 2070.2v15M1961.7 2070.2v15M1966.2 2070.2v15M1997.1 2070.2v15M2027.1 2070.2v15M2163.3 2070.2v15" stroke="#333399" stroke-width="2.3" fill="none"/>
<polyline points="1446.8,2027.9 1663.3,2027.9 1663.3,2075.7 1731.2,2075.7 1731.2,2125 2084.8,2125" fill="none" stroke="#800000" stroke-width="3" stroke-linejoin="miter" stroke-dasharray="10.4 1.1"/>
<path d="M1574 2027.9v15M1642.6 2027.9v15" stroke="#800000" stroke-width="2.3" fill="none"/>
<path d="M1668.1 2075.7v15" stroke="#800000" stroke-width="2.3" fill="none"/>
<path d="M1731.9 2125v15M1743.8 2125v15M1752.6 2125v15M1766.9 2125v15M1783.9 2125v15M1785.8 2125v15M1797.9 2125v15M1862.9 2125v15M1864.8 2125v15M1912.6 2125v15M1963.6 2125v15M1965.5 2125v15M2084.8 2125v15" stroke="#800000" stroke-width="2.3" fill="none"/>
<rect x="2273.5" y="2325.2" width="178" height="168.3" fill="#fff" stroke="#800000" stroke-width="3"/>
<text transform="translate(2284.34 2371.8) scale(1.0000 1)" font-family='"Liberation Sans", Arial, sans-serif' font-size="34.65" font-weight="normal" fill="#000080">PW Score</text>
<line x1="2286.2" y1="2410.6" x2="2357.1" y2="2410.6" stroke="#333399" stroke-width="2.6"/>
<text x="2391.1" y="2420.2" font-family='"Liberation Sans", Arial, sans-serif' font-size="34.6" font-weight="normal" fill="#000080">0</text>
<line x1="2286.2" y1="2458.9" x2="2355" y2="2458.9" stroke="#800000" stroke-width="2.6" stroke-dasharray="7.4 2.6"/>
<text x="2376.3" y="2469" font-family='"Liberation Sans", Arial, sans-serif' font-size="34.6" font-weight="normal" fill="#000080">1-2</text>
</svg></body></html>
